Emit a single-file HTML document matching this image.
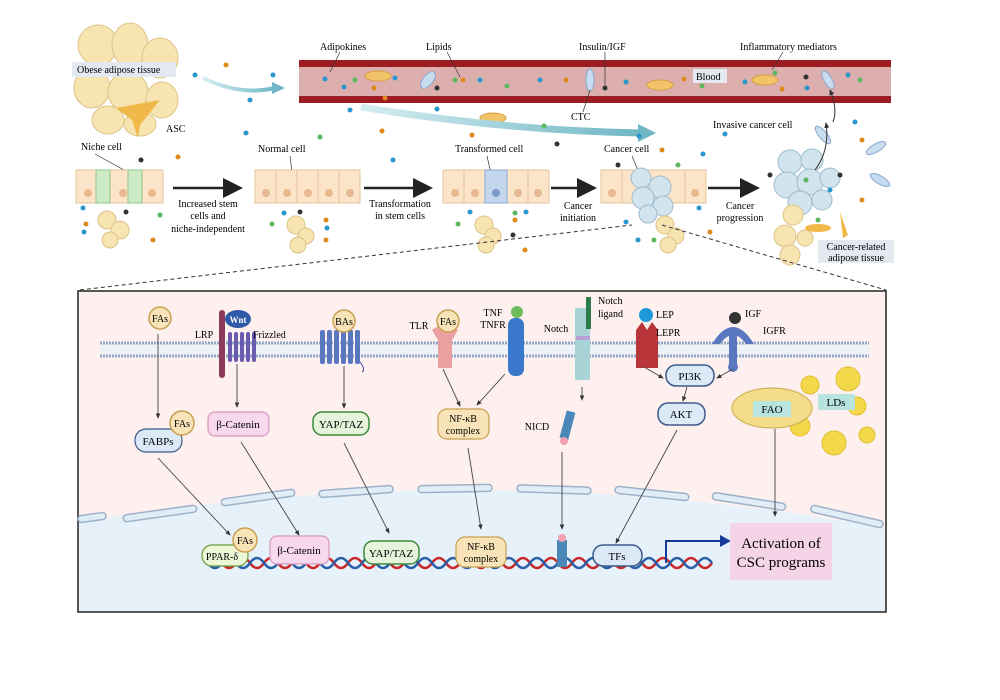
<!DOCTYPE html>
<html><head><meta charset="utf-8"><style>
body{margin:0;background:#fff}
svg{display:block;font-family:"Liberation Serif",serif}
</style></head><body>
<svg width="1000" height="700" viewBox="0 0 1000 700" xmlns="http://www.w3.org/2000/svg">
<defs>
<marker id="a" markerWidth="6" markerHeight="6" refX="5" refY="3" orient="auto"><path d="M0,0.5L6,3L0,5.5z" fill="#333"/></marker>
<marker id="b" markerWidth="8" markerHeight="8" refX="6" refY="4" orient="auto"><path d="M0,0L8,4L0,8z" fill="#222"/></marker>
<linearGradient id="ga" x1="0" x2="1"><stop offset="0" stop-color="#d6eef2"/><stop offset="1" stop-color="#6fb7c4"/></linearGradient>
</defs>
<!-- blood vessel -->
<rect x="299" y="60" width="592" height="43" fill="#dcaeae"/>
<rect x="299" y="60" width="592" height="7" fill="#9c1c22"/>
<rect x="299" y="96" width="592" height="7" fill="#9c1c22"/>
<rect x="693" y="69" width="34" height="14" fill="#e6e8f0"/><text x="696" y="80" font-size="10">Blood</text>
<!-- cells in vessel -->
<g fill="#f2c46a" stroke="#d8a040"><ellipse cx="378" cy="76" rx="13" ry="5"/><ellipse cx="660" cy="85" rx="13" ry="5"/><ellipse cx="765" cy="80" rx="13" ry="5"/><ellipse cx="493" cy="118" rx="13" ry="5"/></g>
<g fill="#c8dcf0" stroke="#8aa8cc"><ellipse cx="428" cy="80" rx="5" ry="10" transform="rotate(40 428 80)"/><ellipse cx="590" cy="80" rx="4" ry="11"/><ellipse cx="828" cy="80" rx="4" ry="10" transform="rotate(-30 828 80)"/></g>
<!-- big arrow -->
<path d="M361,107 Q500,130 640,133" stroke="url(#ga)" stroke-width="7" fill="none"/>
<path d="M638,124 L656,133 L638,142z" fill="#6fb7c4"/>
<path d="M203,78 Q240,96 275,88" stroke="url(#ga)" stroke-width="4" fill="none"/>
<path d="M272,82 L285,88 L272,94z" fill="#6fb7c4"/>
<!-- adipose top-left -->
<g fill="#f8e4b0" stroke="#dcc488">
<ellipse cx="98" cy="45" rx="20" ry="20"/><ellipse cx="130" cy="45" rx="18" ry="22"/><ellipse cx="160" cy="58" rx="18" ry="20"/><ellipse cx="92" cy="88" rx="18" ry="20"/><ellipse cx="128" cy="92" rx="20" ry="20"/><ellipse cx="162" cy="100" rx="16" ry="18"/><ellipse cx="108" cy="120" rx="16" ry="14"/><ellipse cx="140" cy="124" rx="16" ry="12"/>
</g>
<path d="M116,108 L160,100 L140,125 L138,138 L132,120z" fill="#f0b848"/>
<rect x="72" y="62" width="104" height="15" fill="#e4e8f0"/><text x="77" y="73" font-size="10">Obese adipose tissue</text>
<text x="166" y="132" font-size="10">ASC</text>
<!-- labels top -->
<text x="320" y="50" font-size="10">Adipokines</text>
<text x="426" y="50" font-size="10">Lipids</text>
<text x="579" y="50" font-size="10">Insulin/IGF</text>
<text x="740" y="50" font-size="10">Inflammatory mediators</text>
<text x="571" y="120" font-size="10">CTC</text>
<text x="713" y="128" font-size="10">Invasive cancer cell</text>
<text x="81" y="150" font-size="10">Niche cell</text>
<text x="258" y="152" font-size="10">Normal cell</text>
<text x="455" y="152" font-size="10">Transformed cell</text>
<text x="604" y="152" font-size="10">Cancer cell</text>
<g stroke="#333" stroke-width="0.7"><line x1="340" y1="52" x2="330" y2="72"/><line x1="447" y1="52" x2="460" y2="77"/><line x1="605" y1="52" x2="605" y2="85"/><line x1="583" y1="112" x2="590" y2="90"/><line x1="783" y1="52" x2="772" y2="70"/><line x1="95" y1="154" x2="133" y2="175"/><line x1="290" y1="156" x2="293" y2="180"/><line x1="487" y1="156" x2="492" y2="178"/><line x1="632" y1="156" x2="640" y2="175"/></g>
<!-- epithelia -->
<g stroke="#e2c49a" fill="#fbe4c8">
<rect x="76" y="170" width="87" height="33"/><rect x="255" y="170" width="105" height="33"/><rect x="443" y="170" width="106" height="33"/><rect x="601" y="170" width="105" height="33"/>
</g>
<g stroke="#e2c49a"><line x1="276" y1="170" x2="276" y2="203"/><line x1="297" y1="170" x2="297" y2="203"/><line x1="318" y1="170" x2="318" y2="203"/><line x1="339" y1="170" x2="339" y2="203"/><line x1="464" y1="170" x2="464" y2="203"/><line x1="528" y1="170" x2="528" y2="203"/><line x1="622" y1="170" x2="622" y2="203"/><line x1="685" y1="170" x2="685" y2="203"/></g>
<g fill="#e8b890"><circle cx="88" cy="193" r="4"/><circle cx="123" cy="193" r="4"/><circle cx="152" cy="193" r="4"/><circle cx="266" cy="193" r="4"/><circle cx="287" cy="193" r="4"/><circle cx="308" cy="193" r="4"/><circle cx="329" cy="193" r="4"/><circle cx="350" cy="193" r="4"/><circle cx="455" cy="193" r="4"/><circle cx="475" cy="193" r="4"/><circle cx="518" cy="193" r="4"/><circle cx="538" cy="193" r="4"/><circle cx="612" cy="193" r="4"/><circle cx="695" cy="193" r="4"/></g>
<rect x="96" y="170" width="14" height="33" fill="#cde9c6" stroke="#8cc888"/><rect x="128" y="170" width="14" height="33" fill="#cde9c6" stroke="#8cc888"/>
<rect x="485" y="170" width="22" height="33" fill="#c4d6ee" stroke="#8aa8d0"/><circle cx="496" cy="193" r="4" fill="#7a98c8"/>
<g fill="#d2e4ee" stroke="#9cbccc"><circle cx="641" cy="178" r="10"/><circle cx="660" cy="187" r="11"/><circle cx="643" cy="198" r="11"/><circle cx="663" cy="206" r="10"/><circle cx="648" cy="214" r="9"/>
<circle cx="790" cy="162" r="12"/><circle cx="812" cy="160" r="11"/><circle cx="787" cy="185" r="13"/><circle cx="810" cy="182" r="13"/><circle cx="830" cy="178" r="10"/><circle cx="800" cy="203" r="12"/><circle cx="822" cy="200" r="10"/></g>
<g fill="#c8dcf0" stroke="#8aa8cc"><ellipse cx="823" cy="135" rx="4" ry="11" transform="rotate(-40 823 135)"/><ellipse cx="876" cy="148" rx="4" ry="11" transform="rotate(60 876 148)"/><ellipse cx="880" cy="180" rx="4" ry="11" transform="rotate(-60 880 180)"/></g>
<path d="M815,170 Q830,150 826,123" stroke="#333" fill="none" marker-end="url(#a)"/>
<path d="M833,122 Q838,110 830,90" stroke="#333" fill="none" marker-end="url(#a)"/>
<g fill="#f8e4b0" stroke="#dcc488"><circle cx="107" cy="220" r="9"/><circle cx="120" cy="230" r="9"/><circle cx="110" cy="240" r="8"/><circle cx="296" cy="225" r="9"/><circle cx="306" cy="236" r="8"/><circle cx="298" cy="245" r="8"/><circle cx="484" cy="225" r="9"/><circle cx="493" cy="236" r="8"/><circle cx="486" cy="245" r="8"/><circle cx="665" cy="225" r="9"/><circle cx="676" cy="236" r="8"/><circle cx="668" cy="245" r="8"/><circle cx="793" cy="215" r="10"/><circle cx="785" cy="236" r="11"/><circle cx="790" cy="255" r="10"/><circle cx="805" cy="238" r="8"/></g>
<path d="M840,212 L848,235 L843,238z" fill="#f0b848"/><ellipse cx="818" cy="228" rx="13" ry="4" fill="#f0b848"/>
<!-- process arrows -->
<g stroke="#222" stroke-width="2.5" marker-end="url(#b)"><line x1="173" y1="188" x2="238" y2="188"/><line x1="364" y1="188" x2="428" y2="188"/><line x1="551" y1="188" x2="592" y2="188"/><line x1="708" y1="188" x2="755" y2="188"/></g>
<g font-size="10" text-anchor="middle">
<text x="208" y="207">Increased stem</text><text x="208" y="219">cells and</text><text x="208" y="232">niche-independent</text>
<text x="400" y="207">Transformation</text><text x="400" y="219">in stem cells</text>
<text x="578" y="209">Cancer</text><text x="578" y="221">initiation</text>
<text x="740" y="209">Cancer</text><text x="740" y="221">progression</text>
</g>
<rect x="818" y="240" width="76" height="23" fill="#e4e8f0"/><text x="856" y="250" font-size="10" text-anchor="middle">Cancer-related</text><text x="856" y="261" font-size="10" text-anchor="middle">adipose tissue</text>
<!-- dots -->
<g fill="#2a96cc"><circle cx="325" cy="79" r="2.5"/><circle cx="344" cy="87" r="2.5"/><circle cx="395" cy="78" r="2.5"/><circle cx="480" cy="80" r="2.5"/><circle cx="540" cy="80" r="2.5"/><circle cx="626" cy="82" r="2.5"/><circle cx="745" cy="82" r="2.5"/><circle cx="807" cy="88" r="2.5"/><circle cx="848" cy="75" r="2.5"/><circle cx="195" cy="75" r="2.5"/><circle cx="250" cy="100" r="2.5"/><circle cx="273" cy="75" r="2.5"/><circle cx="350" cy="110" r="2.5"/><circle cx="437" cy="109" r="2.5"/><circle cx="246" cy="133" r="2.5"/><circle cx="393" cy="160" r="2.5"/><circle cx="639" cy="136" r="2.5"/><circle cx="703" cy="154" r="2.5"/><circle cx="725" cy="134" r="2.5"/><circle cx="855" cy="122" r="2.5"/><circle cx="83" cy="208" r="2.5"/><circle cx="84" cy="232" r="2.5"/><circle cx="284" cy="213" r="2.5"/><circle cx="327" cy="228" r="2.5"/><circle cx="470" cy="212" r="2.5"/><circle cx="526" cy="212" r="2.5"/><circle cx="626" cy="222" r="2.5"/><circle cx="638" cy="240" r="2.5"/><circle cx="699" cy="208" r="2.5"/><circle cx="830" cy="190" r="2.5"/></g>
<g fill="#e08a1a"><circle cx="463" cy="80" r="2.5"/><circle cx="374" cy="88" r="2.5"/><circle cx="385" cy="98" r="2.5"/><circle cx="566" cy="80" r="2.5"/><circle cx="684" cy="79" r="2.5"/><circle cx="782" cy="89" r="2.5"/><circle cx="226" cy="65" r="2.5"/><circle cx="382" cy="131" r="2.5"/><circle cx="472" cy="135" r="2.5"/><circle cx="178" cy="157" r="2.5"/><circle cx="662" cy="150" r="2.5"/><circle cx="86" cy="224" r="2.5"/><circle cx="153" cy="240" r="2.5"/><circle cx="326" cy="220" r="2.5"/><circle cx="326" cy="240" r="2.5"/><circle cx="515" cy="220" r="2.5"/><circle cx="525" cy="250" r="2.5"/><circle cx="710" cy="232" r="2.5"/><circle cx="862" cy="140" r="2.5"/><circle cx="862" cy="200" r="2.5"/></g>
<g fill="#5cb85c"><circle cx="355" cy="80" r="2.5"/><circle cx="455" cy="80" r="2.5"/><circle cx="507" cy="86" r="2.5"/><circle cx="702" cy="86" r="2.5"/><circle cx="775" cy="73" r="2.5"/><circle cx="860" cy="80" r="2.5"/><circle cx="320" cy="137" r="2.5"/><circle cx="544" cy="126" r="2.5"/><circle cx="160" cy="215" r="2.5"/><circle cx="272" cy="224" r="2.5"/><circle cx="458" cy="224" r="2.5"/><circle cx="515" cy="213" r="2.5"/><circle cx="654" cy="240" r="2.5"/><circle cx="678" cy="165" r="2.5"/><circle cx="806" cy="180" r="2.5"/><circle cx="818" cy="220" r="2.5"/></g>
<g fill="#333"><circle cx="437" cy="88" r="2.5"/><circle cx="605" cy="88" r="2.5"/><circle cx="806" cy="77" r="2.5"/><circle cx="141" cy="160" r="2.5"/><circle cx="126" cy="212" r="2.5"/><circle cx="300" cy="212" r="2.5"/><circle cx="557" cy="144" r="2.5"/><circle cx="513" cy="235" r="2.5"/><circle cx="618" cy="165" r="2.5"/><circle cx="770" cy="175" r="2.5"/><circle cx="840" cy="175" r="2.5"/></g>
<!-- dashed zoom lines -->
<path d="M80,290 L632,225 M662,225 L886,290" stroke="#333" stroke-dasharray="4,3" fill="none"/>
<!-- main box -->
<rect x="78" y="291" width="808" height="321" fill="#fdf0ef" stroke="#222" stroke-width="1.5"/>
<path d="M79,522 Q480,455 885,528 L885,611 L79,611 Z" fill="#e7f1f9"/>
<g fill="#e0ecf6" stroke="#9cb2c8" stroke-width="1.5">
<rect x="78" y="514" width="28" height="7" rx="3.5" transform="rotate(-8 92 517)"/>
<rect x="123" y="510" width="74" height="7" rx="3.5" transform="rotate(-8 160 514)"/>
<rect x="221" y="494" width="74" height="7" rx="3.5" transform="rotate(-8 258 497)"/>
<rect x="319" y="488" width="74" height="7" rx="3.5" transform="rotate(-4 356 491)"/>
<rect x="418" y="485" width="74" height="7" rx="3.5" transform="rotate(-1 455 488)"/>
<rect x="517" y="486" width="74" height="7" rx="3.5" transform="rotate(2 554 489)"/>
<rect x="615" y="490" width="74" height="7" rx="3.5" transform="rotate(6 652 493)"/>
<rect x="712" y="498" width="74" height="7" rx="3.5" transform="rotate(9 749 501)"/>
<rect x="810" y="513" width="74" height="7" rx="3.5" transform="rotate(13 847 516)"/>
</g>
<!-- membrane -->
<rect x="100" y="343" width="769" height="12" fill="#eef2f7"/>
<line x1="100" y1="343" x2="869" y2="343" stroke="#8fa8c8" stroke-width="3" stroke-dasharray="2,1"/>
<line x1="100" y1="356" x2="869" y2="356" stroke="#8fa8c8" stroke-width="3" stroke-dasharray="2,1"/>
<!-- receptors -->
<rect x="219" y="310" width="6" height="68" rx="3" fill="#8c3c5a"/>
<g fill="#6a5ab0"><rect x="228" y="332" width="4" height="30" rx="2"/><rect x="234" y="332" width="4" height="30" rx="2"/><rect x="240" y="332" width="4" height="30" rx="2"/><rect x="246" y="332" width="4" height="30" rx="2"/><rect x="252" y="332" width="4" height="30" rx="2"/></g>
<ellipse cx="238" cy="319" rx="13" ry="9" fill="#2e5aa8"/><text x="238" y="323" font-size="9" fill="#fff" text-anchor="middle" font-weight="bold">Wnt</text>
<text x="204" y="338" font-size="10" text-anchor="middle">LRP</text><text x="253" y="338" font-size="10">Frizzled</text>
<g fill="#5a78c0"><rect x="320" y="330" width="5" height="34" rx="2"/><rect x="327" y="330" width="5" height="34" rx="2"/><rect x="334" y="330" width="5" height="34" rx="2"/><rect x="341" y="330" width="5" height="34" rx="2"/><rect x="348" y="330" width="5" height="34" rx="2"/><rect x="355" y="330" width="5" height="34" rx="2"/></g>
<path d="M360,362 q6,8 2,10" stroke="#3a4a98" fill="none"/>
<path d="M432,330 q13,-10 26,0 l-6,10 v28 h-14 v-28z" fill="#eaa0a0"/>
<text x="419" y="329" font-size="10" text-anchor="middle">TLR</text>
<rect x="508" y="318" width="16" height="58" rx="7" fill="#3a78cc"/><circle cx="517" cy="312" r="6" fill="#6cbc5c"/>
<text x="493" y="316" font-size="10" text-anchor="middle">TNF</text><text x="493" y="328" font-size="10" text-anchor="middle">TNFR</text>
<rect x="575" y="308" width="15" height="72" fill="#a8d4d8"/><rect x="586" y="297" width="5" height="32" fill="#2d7a4a"/><rect x="576" y="336" width="14" height="4" fill="#b8a0d8"/>
<text x="556" y="332" font-size="10" text-anchor="middle">Notch</text>
<text x="598" y="304" font-size="10">Notch</text><text x="598" y="317" font-size="10">ligand</text>
<path d="M636,330 l6,-8 l5,8 v38 h-11z M647,330 l5,-8 l6,8 v38 h-11z" fill="#b8363a"/><circle cx="646" cy="315" r="7" fill="#1e98d8"/>
<text x="656" y="318" font-size="10">LEP</text><text x="656" y="336" font-size="10">LEPR</text>
<path d="M712,344 q21,-34 42,0 h-8 q-13,-18 -26,0z" fill="#5a78c0"/><rect x="729" y="335" width="8" height="30" fill="#5a78c0"/><circle cx="733" cy="367" r="5" fill="#5a78c0"/><circle cx="735" cy="318" r="6" fill="#333"/>
<text x="745" y="317" font-size="10">IGF</text><text x="763" y="334" font-size="10">IGFR</text>
<!-- mito & LDs -->
<g fill="#f4d84c" stroke="#e0c030"><circle cx="848" cy="379" r="12"/><circle cx="810" cy="385" r="9"/><circle cx="857" cy="406" r="9"/><circle cx="834" cy="443" r="12"/><circle cx="867" cy="435" r="8"/><circle cx="800" cy="426" r="10"/></g>
<ellipse cx="772" cy="408" rx="40" ry="20" fill="#f4dc8a" stroke="#c8a848"/>
<rect x="753" y="401" width="38" height="16" fill="#b8e4e0"/><text x="772" y="413" font-size="11" text-anchor="middle">FAO</text>
<rect x="818" y="394" width="37" height="16" fill="#b8e4e0"/><text x="836" y="406" font-size="11" text-anchor="middle">LDs</text>
<!-- DNA -->
<path d="M208,563 q7,-10 14,0 t14,0 t14,0 t14,0 t14,0 t14,0 t14,0 t14,0 t14,0 t14,0 t14,0 t14,0 t14,0 t14,0 t14,0 t14,0 t14,0 t14,0 t14,0 t14,0 t14,0 t14,0 t14,0 t14,0 t14,0 t14,0 t14,0 t14,0 t14,0 t14,0 t14,0 t14,0 t14,0 t14,0 t14,0 t14,0" stroke="#c82828" stroke-width="2.5" fill="none"/>
<path d="M208,563 q7,10 14,0 t14,0 t14,0 t14,0 t14,0 t14,0 t14,0 t14,0 t14,0 t14,0 t14,0 t14,0 t14,0 t14,0 t14,0 t14,0 t14,0 t14,0 t14,0 t14,0 t14,0 t14,0 t14,0 t14,0 t14,0 t14,0 t14,0 t14,0 t14,0 t14,0 t14,0 t14,0 t14,0 t14,0 t14,0 t14,0" stroke="#2860a8" stroke-width="2.5" fill="none"/>
<!-- arrows -->
<g stroke="#444" stroke-width="0.9" marker-end="url(#a)" fill="none">
<line x1="158" y1="334" x2="158" y2="418"/><line x1="237" y1="364" x2="237" y2="407"/><line x1="344" y1="366" x2="344" y2="408"/>
<line x1="443" y1="369" x2="460" y2="406"/><line x1="505" y1="374" x2="477" y2="405"/><line x1="582" y1="387" x2="582" y2="400"/>
<line x1="644" y1="367" x2="663" y2="378"/><line x1="733" y1="369" x2="717" y2="378"/><line x1="687" y1="387" x2="683" y2="401"/>
<line x1="158" y1="458" x2="230" y2="535"/><line x1="241" y1="442" x2="299" y2="535"/><line x1="344" y1="443" x2="389" y2="533"/><line x1="468" y1="448" x2="481" y2="529"/>
<line x1="562" y1="452" x2="562" y2="529"/><line x1="677" y1="430" x2="616" y2="543"/><line x1="775" y1="429" x2="775" y2="516"/>
</g>
<path d="M666,563 V541 H722" stroke="#1a3a98" stroke-width="2" fill="none"/><path d="M720,535 L731,541 L720,547z" fill="#1a3a98"/>
<!-- nodes -->
<g font-size="11" text-anchor="middle">
<rect x="135" y="429" width="47" height="23" rx="11" fill="#dceaf7" stroke="#3c5a88" stroke-width="1.2"/><text x="158" y="445">FABPs</text>
<rect x="208" y="412" width="61" height="24" rx="7" fill="#f8d8ec" stroke="#d898c0" stroke-width="1.2"/><text x="238" y="428">β-Catenin</text>
<rect x="313" y="412" width="56" height="23" rx="9" fill="#e6f4dc" stroke="#3c8a3c" stroke-width="1.5"/><text x="341" y="428">YAP/TAZ</text>
<rect x="438" y="409" width="51" height="30" rx="9" fill="#f8e4b8" stroke="#c8a050" stroke-width="1.2"/><text x="463" y="422" font-size="10">NF-κB</text><text x="463" y="434" font-size="10">complex</text>
<text x="537" y="430" font-size="10">NICD</text>
<rect x="563" y="411" width="9" height="28" fill="#4a88b8" transform="rotate(15 567 425)"/><circle cx="564" cy="441" r="4" fill="#f0a0b0"/>
<rect x="666" y="365" width="48" height="21" rx="10" fill="#dceaf7" stroke="#3c5a88" stroke-width="1.5"/><text x="690" y="380">PI3K</text>
<rect x="658" y="403" width="47" height="22" rx="10" fill="#dceaf7" stroke="#3c5a88" stroke-width="1.5"/><text x="681" y="418">AKT</text>
<rect x="202" y="545" width="46" height="21" rx="10" fill="#eef6d8" stroke="#6a9a3a" stroke-width="1.2"/><text x="222" y="560" font-size="10">PPAR-δ</text>
<rect x="270" y="536" width="59" height="28" rx="7" fill="#f8d8ec" stroke="#d898c0" stroke-width="1.2"/><text x="299" y="554">β-Catenin</text>
<rect x="364" y="541" width="55" height="23" rx="9" fill="#e6f4dc" stroke="#3c8a3c" stroke-width="1.5"/><text x="391" y="557">YAP/TAZ</text>
<rect x="456" y="537" width="50" height="30" rx="9" fill="#f8e4b8" stroke="#c8a050" stroke-width="1.2"/><text x="481" y="550" font-size="10">NF-κB</text><text x="481" y="562" font-size="10">complex</text>
<rect x="557" y="540" width="10" height="27" fill="#4a88b8"/><circle cx="562" cy="538" r="4" fill="#f0a0b0"/>
<rect x="593" y="545" width="49" height="21" rx="10" fill="#dceaf7" stroke="#3c5a88" stroke-width="1.5"/><text x="617" y="560">TFs</text>
<rect x="730" y="523" width="102" height="57" fill="#f6d4e8"/>
<text x="781" y="548" font-size="15">Activation  of</text><text x="781" y="567" font-size="15">CSC programs</text>
<g stroke="#c8a050" stroke-width="1.5" fill="#f8e4b8"><circle cx="160" cy="318" r="11"/><circle cx="182" cy="423" r="12"/><circle cx="344" cy="321" r="11"/><circle cx="448" cy="321" r="11"/><circle cx="245" cy="540" r="12"/></g>
<text x="160" y="322" font-size="10">FAs</text><text x="182" y="427" font-size="10">FAs</text><text x="344" y="325" font-size="10">BAs</text><text x="448" y="325" font-size="10">FAs</text><text x="245" y="544" font-size="10">FAs</text>
</g>
</svg>
</body></html>
